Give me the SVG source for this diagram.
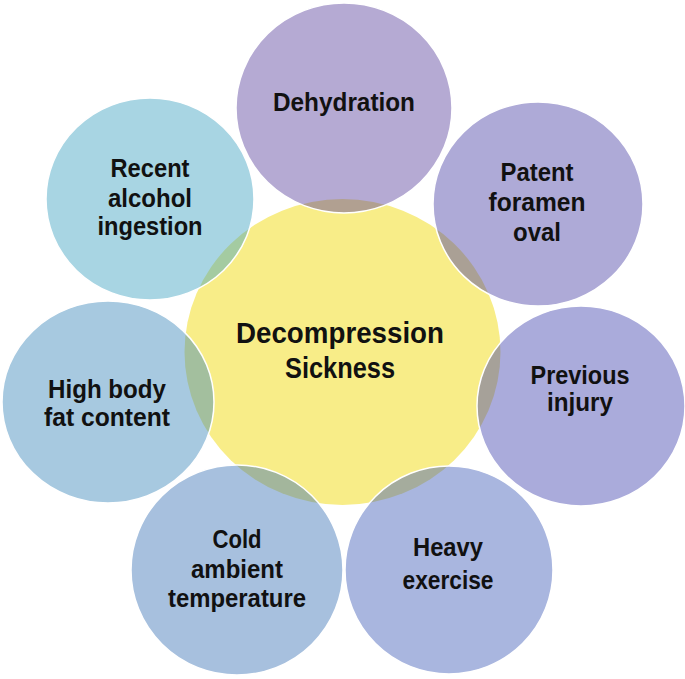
<svg xmlns="http://www.w3.org/2000/svg" width="685" height="679" viewBox="0 0 685 679">
<style>
.t{font-family:"Liberation Sans",Arial,sans-serif;font-weight:bold;font-size:25.5px;fill:#111;text-anchor:middle}
.c{font-size:29px}
.o{fill-opacity:0.45;stroke:#ffffff;stroke-width:1.5}
</style>
<rect width="685" height="679" fill="#ffffff"/>
<g id="center">
<ellipse cx="342.5" cy="352" rx="158" ry="153" fill="#f8ed88"/>
<text class="t c" x="340" y="343" textLength="208" lengthAdjust="spacingAndGlyphs">Decompression</text>
<text class="t c" x="340" y="378" textLength="110" lengthAdjust="spacingAndGlyphs">Sickness</text>
</g>
<g id="connectors"></g>
<g id="dehydration">
<ellipse class="o" cx="344" cy="108" rx="108" ry="105" fill="#5b439e"/>
<text class="t" x="344" y="111" textLength="142" lengthAdjust="spacingAndGlyphs">Dehydration</text>
</g>
<g id="patent">
<ellipse class="o" cx="538" cy="204" rx="105" ry="102" fill="#4c43a7"/>
<text class="t" x="537" y="181" textLength="73" lengthAdjust="spacingAndGlyphs">Patent</text>
<text class="t" x="537" y="211" textLength="97" lengthAdjust="spacingAndGlyphs">foramen</text>
<text class="t" x="537" y="241" textLength="48" lengthAdjust="spacingAndGlyphs">oval</text>
</g>
<g id="previous">
<ellipse class="o" cx="581" cy="406" rx="104" ry="100" fill="#4345b0"/>
<text class="t" x="580" y="384" textLength="99" lengthAdjust="spacingAndGlyphs">Previous</text>
<text class="t" x="580" y="411" textLength="66" lengthAdjust="spacingAndGlyphs">injury</text>
</g>
<g id="heavy">
<ellipse class="o" cx="449" cy="570" rx="104" ry="104" fill="#405db8"/>
<text class="t" x="448" y="556" textLength="70" lengthAdjust="spacingAndGlyphs">Heavy</text>
<text class="t" x="448" y="589" textLength="91" lengthAdjust="spacingAndGlyphs">exercise</text>
</g>
<g id="cold">
<ellipse class="o" cx="237" cy="570" rx="106" ry="105" fill="#3c74b6"/>
<text class="t" x="237" y="548" textLength="49" lengthAdjust="spacingAndGlyphs">Cold</text>
<text class="t" x="237" y="578" textLength="92" lengthAdjust="spacingAndGlyphs">ambient</text>
<text class="t" x="237" y="607" textLength="138" lengthAdjust="spacingAndGlyphs">temperature</text>
</g>
<g id="highbodyfat">
<ellipse class="o" cx="108" cy="402" rx="106" ry="101" fill="#3c88bb"/>
<text class="t" x="107" y="398" textLength="118" lengthAdjust="spacingAndGlyphs">High body</text>
<text class="t" x="107" y="426" textLength="126" lengthAdjust="spacingAndGlyphs">fat content</text>
</g>
<g id="alcohol">
<ellipse class="o" cx="150" cy="199" rx="104" ry="101" fill="#3ea2c1"/>
<text class="t" x="150" y="177" textLength="79" lengthAdjust="spacingAndGlyphs">Recent</text>
<text class="t" x="150" y="207" textLength="84" lengthAdjust="spacingAndGlyphs">alcohol</text>
<text class="t" x="150" y="235" textLength="105" lengthAdjust="spacingAndGlyphs">ingestion</text>
</g>
</svg>
